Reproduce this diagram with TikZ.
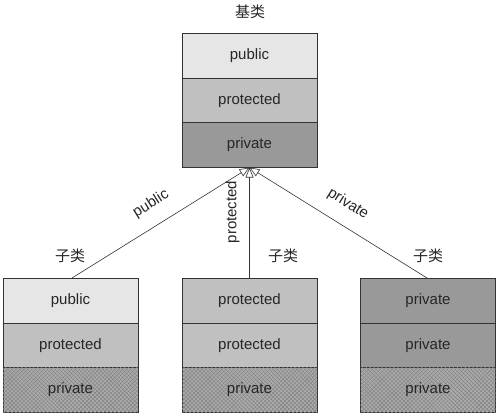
\documentclass[tikz,border=0pt]{standalone}
\usepackage{fontspec}
\setmainfont{Liberation Sans}
\newfontfamily\cjk{Noto Sans CJK SC}
\usetikzlibrary{arrows.meta,patterns.meta}
\definecolor{pubc}{HTML}{E6E6E6}
\definecolor{proc}{HTML}{C0C0C0}
\definecolor{privc}{HTML}{999999}
\definecolor{hatchc}{HTML}{ABABAB}
\tikzset{
  cell/.style={draw=black!80, line width=0.6pt, minimum width=135pt, minimum height=44.7pt, inner sep=0pt, font=\fontsize{15}{17}\selectfont, text=black!85},
  pubcell/.style={cell, fill=pubc},
  procell/.style={cell, fill=proc},
  privcell/.style={cell, fill=privc},
  hatchcell/.style={cell, fill=hatchc,
    postaction={pattern={Lines[angle=45,distance=2.8pt,line width=0.4pt]}, pattern color=black!50},
    postaction={pattern={Lines[angle=-45,distance=2.8pt,line width=0.4pt]}, pattern color=black!50}},
  cjklabel/.style={font=\cjk\fontsize{15}{17}\selectfont, text=black!85},
  edgelabel/.style={font=\fontsize{15}{17}\selectfont, text=black!85},
  inherit/.style={draw=black!80, line width=0.6pt, -{Triangle[open, length=10pt, width=8pt, fill=white]}}
}
\begin{document}
\begin{tikzpicture}[x=1pt,y=-1pt]
\useasboundingbox (0,0) rectangle (500,417);
% base class
\node[cjklabel] (title) at (250,12) {基类};
\node[pubcell] (b1) at (249.5,55.5) {public};
\node[procell] (b2) at (249.5,100.2) {protected};
\node[privcell] (b3) at (249.5,144.9) {private};
% derived classes
\node[pubcell] (l1) at (70.5,300.5) {public};
\node[procell] (l2) at (70.5,345.2) {protected};
\node[hatchcell] (l3) at (70.5,389.9) {private};
\node[procell] (m1) at (249.5,300.5) {protected};
\node[procell] (m2) at (249.5,345.2) {protected};
\node[hatchcell] (m3) at (249.5,389.9) {private};
\node[privcell] (r1) at (428,300.5) {private};
\node[privcell] (r2) at (428,345.2) {private};
\node[hatchcell] (r3) at (428,389.9) {private};
% anchor coordinates
\coordinate (tip) at (b3.south);
\coordinate (ls) at (72,278);
\coordinate (ms) at (m1.north);
\coordinate (rs) at (427,278);
\draw[inherit] (ls) -- (tip);
\draw[inherit] (ms) -- (tip);
\draw[inherit] (rs) -- (tip);
% labels
\node[edgelabel, rotate=32] (lp) at (151,204) {public};
\node[edgelabel, rotate=90] (lm) at (232.5,212) {protected};
\node[edgelabel, rotate=-32] (lr) at (348,204) {private};
\node[cjklabel] (c1) at (70,256) {子类};
\node[cjklabel] (c2) at (283,256) {子类};
\node[cjklabel] (c3) at (428,256) {子类};
\end{tikzpicture}
\end{document}
